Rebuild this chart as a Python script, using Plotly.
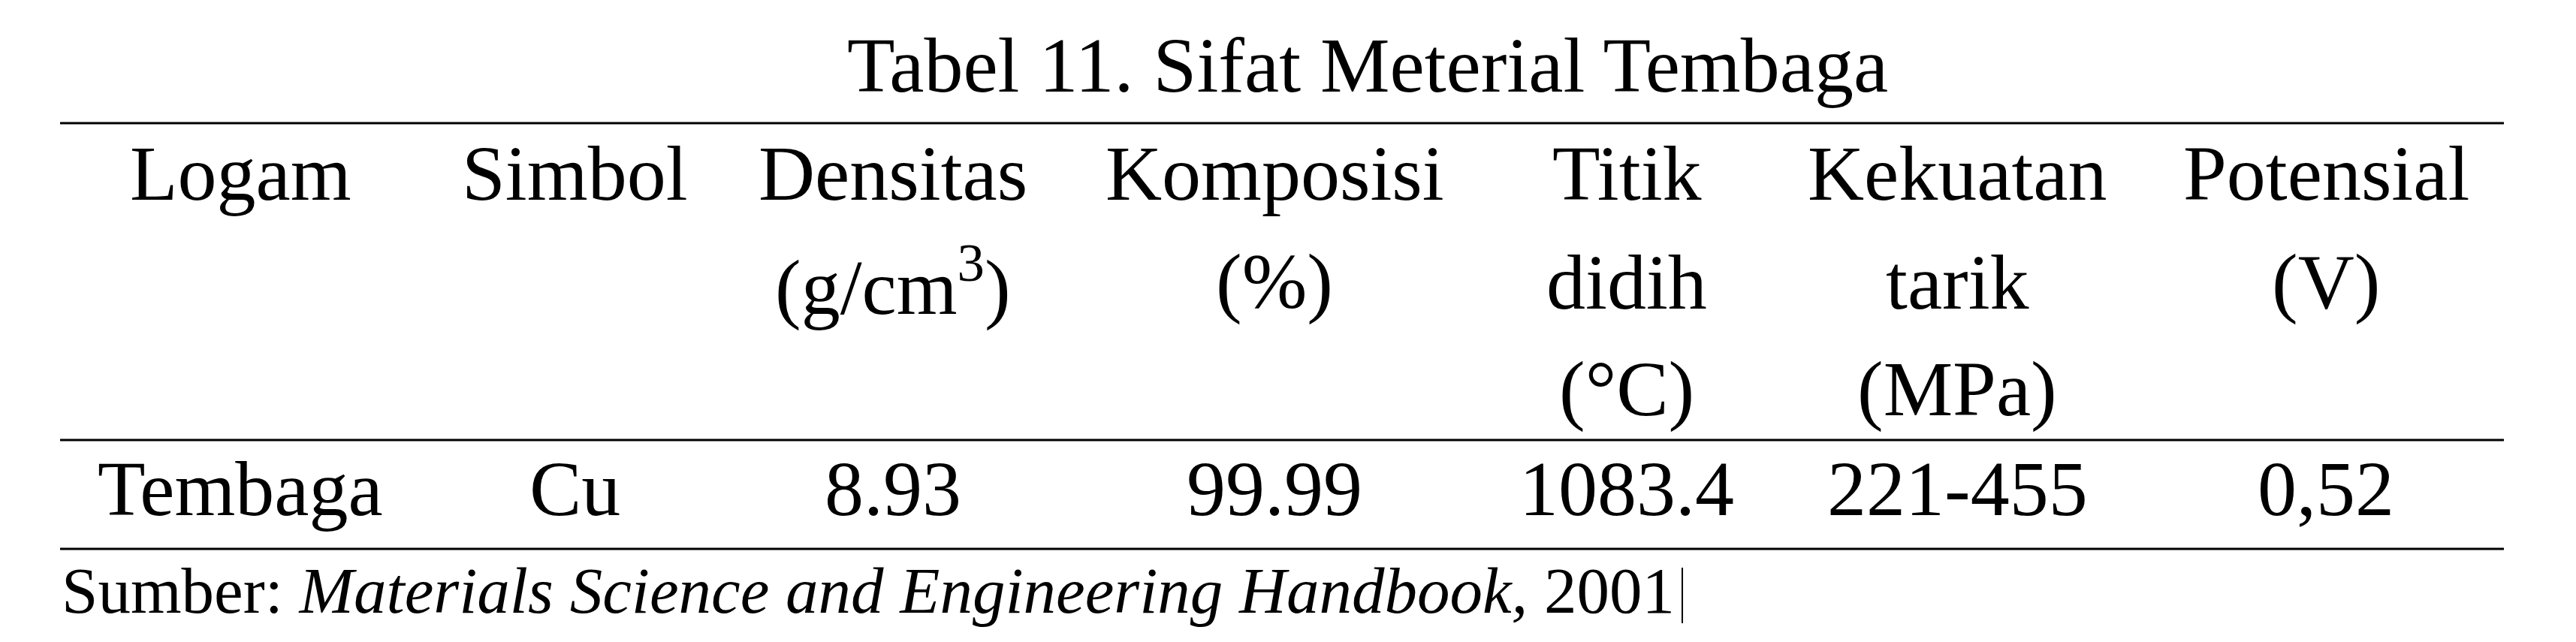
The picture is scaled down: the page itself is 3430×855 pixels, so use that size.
import plotly.graph_objects as go

W, H = 3430, 855

title = "Tabel 11. Sifat Meterial Tembaga"
headers = [
    ["Logam"],
    ["Simbol"],
    ["Densitas", "(g/cm<sup>3</sup>)"],
    ["Komposisi", "(%)"],
    ["Titik", "didih", "(°C)"],
    ["Kekuatan", "tarik", "(MPa)"],
    ["Potensial", "(V)"],
]
row_values = ["Tembaga", "Cu", "8.93", "99.99", "1083.4", "221-455", "0,52"]
source_plain = "Sumber: "
source_italic = "Materials Science and Engineering Handbook,"
source_year = " 2001"

# layout (pixels)
col_x = [312, 757, 1181, 1689, 2158, 2598, 3089]
header_y = [222, 367, 510]
row_y = 642
rule_y = [156, 578, 723]
x_left, x_right = 72, 3326
FONT = dict(family="Liberation Serif, Times New Roman, serif", size=104, color="black")

fig = go.Figure()
ann = []
ann.append(dict(x=1813, y=78, text=title, showarrow=False, font=FONT,
                xanchor="center", yanchor="middle"))
for cx, lines in zip(col_x, headers):
    for ly, t in zip(header_y, lines):
        ann.append(dict(x=cx, y=ly, text=t, showarrow=False, font=FONT,
                        xanchor="center", yanchor="middle"))
for cx, v in zip(col_x, row_values):
    ann.append(dict(x=cx, y=row_y, text=v, showarrow=False, font=FONT,
                    xanchor="center", yanchor="middle"))
ann.append(dict(x=x_left, y=778,
                text=source_plain + "<i>" + source_italic + "</i>" + source_year,
                showarrow=False, font=dict(FONT, size=87),
                xanchor="left", yanchor="middle"))

shapes = [dict(type="line", x0=x_left, x1=x_right, y0=y, y1=y,
               line=dict(color="black", width=3)) for y in rule_y]
shapes.append(dict(type="line", x0=2232, x1=2232, y0=748, y1=822,
                   line=dict(color="black", width=2)))

fig.update_layout(
    width=W, height=H, margin=dict(l=0, r=0, t=0, b=0),
    paper_bgcolor="white", plot_bgcolor="white",
    xaxis=dict(range=[0, W], visible=False, fixedrange=True),
    yaxis=dict(range=[H, 0], visible=False, fixedrange=True),
    annotations=ann, shapes=shapes, showlegend=False,
)
fig.write_html("out.html")
